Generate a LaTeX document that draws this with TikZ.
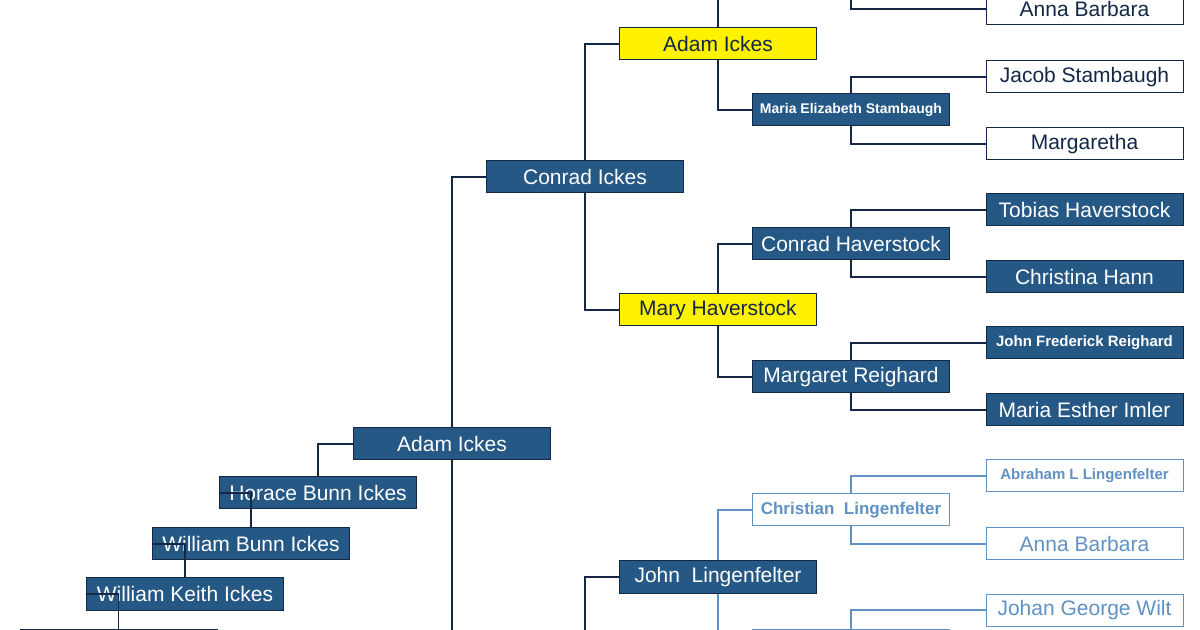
\documentclass[tikz,border=0pt]{standalone}
\usepackage{fontspec}
\setmainfont{Liberation Sans}
\definecolor{dk}{RGB}{38,88,133}
\definecolor{ln}{RGB}{20,40,70}
\definecolor{lb}{RGB}{96,146,196}
\begin{document}
\begin{tikzpicture}[x=0.5pt,y=-0.5pt,
 bx/.style={minimum width=98.5pt,minimum height=16pt,inner sep=0pt,font=\fontsize{10.5}{12}\selectfont,draw=ln,line width=0.5pt},
 dkb/.style={bx,fill=dk,text=white},
 ylb/.style={bx,fill=yellow,text=ln},
 wtb/.style={bx,fill=white,text=ln},
 lbb/.style={bx,fill=white,draw=lb,text=lb},
 con/.style={draw=ln,line width=0.6pt},
 lcon/.style={draw=lb,line width=0.6pt}]
\useasboundingbox (0,0) rectangle (1200,630);
\clip (0,0) rectangle (1200,630);
\fill[white] (0,0) rectangle (1200,630);
% nodes
\node[wtb] (annaA) at (1084.5,9) {Anna Barbara};
\node[ylb] (adamY) at (718,44) {Adam Ickes};
\node[wtb] (jacob) at (1084.5,77) {Jacob Stambaugh};
\node[dkb,font=\bfseries\fontsize{7}{8}\selectfont] (mes) at (851,110) {Maria Elizabeth Stambaugh};
\node[wtb] (marg) at (1084.5,144) {Margaretha};
\node[dkb] (conrad) at (585,177) {Conrad Ickes};
\node[dkb] (tobias) at (1084.5,210) {Tobias Haverstock};
\node[dkb] (conradH) at (851,244) {Conrad Haverstock};
\node[dkb] (christina) at (1084.5,277) {Christina Hann};
\node[ylb] (mary) at (718,310) {Mary Haverstock};
\node[dkb,font=\bfseries\fontsize{7.5}{9}\selectfont] (jfr) at (1084.5,343) {John Frederick Reighard};
\node[dkb] (margR) at (851,377) {Margaret Reighard};
\node[dkb] (imler) at (1084.5,410) {Maria Esther Imler};
\node[dkb] (adam) at (452,444) {Adam Ickes};
\node[dkb] (horace) at (318,493) {Horace Bunn Ickes};
\node[dkb] (wbi) at (251,544) {William Bunn Ickes};
\node[dkb] (wki) at (185,594) {William Keith Ickes};
\node[dkb] (bot) at (118.5,645) {};
\node[lbb,font=\bfseries\fontsize{7.5}{9}\selectfont] (abr) at (1084.5,476) {Abraham L Lingenfelter};
\node[lbb,font=\bfseries\fontsize{8.5}{10}\selectfont] (chr) at (851,510) {Christian\ \ Lingenfelter};
\node[lbb] (annaB) at (1084.5,544) {Anna Barbara};
\node[dkb] (john) at (718,577) {John\ \ Lingenfelter};
\node[lbb] (wilt) at (1084.5,610) {Johan George Wilt};
\node[lbb] (botR) at (851,645) {};
\coordinate (topA) at (851,-20);
\coordinate (topY) at (718,-20);
\coordinate (botAdam) at (452,650);
\coordinate (botJ) at (585,650);
% connectors
\draw[con] (topA) |- (annaA.west);
\draw[con] (topY) -- (adamY.north);
\draw[con] (adamY.south) |- (mes.west);
\draw[con] (mes.north) |- (jacob.west);
\draw[con] (mes.south) |- (marg.west);
\draw[con] (conrad.north) |- (adamY.west);
\draw[con] (conrad.south) |- (mary.west);
\draw[con] (mary.north) |- (conradH.west);
\draw[con] (mary.south) |- (margR.west);
\draw[con] (conradH.north) |- (tobias.west);
\draw[con] (conradH.south) |- (christina.west);
\draw[con] (margR.north) |- (jfr.west);
\draw[con] (margR.south) |- (imler.west);
\draw[con] (adam.north) |- (conrad.west);
\draw[con] (adam.south) -- (botAdam);
\draw[con] (horace.north) |- (adam.west);
\draw[con] (wbi.north) |- (horace.west);
\draw[con] (wki.north) |- (wbi.west);
\draw[con] (bot.north) |- (wki.west);
\draw[con] (botJ) |- (john.west);
\draw[lcon] (john.north) |- (chr.west);
\draw[lcon] (john.south) |- (botR.west);
\draw[lcon] (chr.north) |- (abr.west);
\draw[lcon] (chr.south) |- (annaB.west);
\draw[lcon] (botR.north) |- (wilt.west);
\end{tikzpicture}
\end{document}
